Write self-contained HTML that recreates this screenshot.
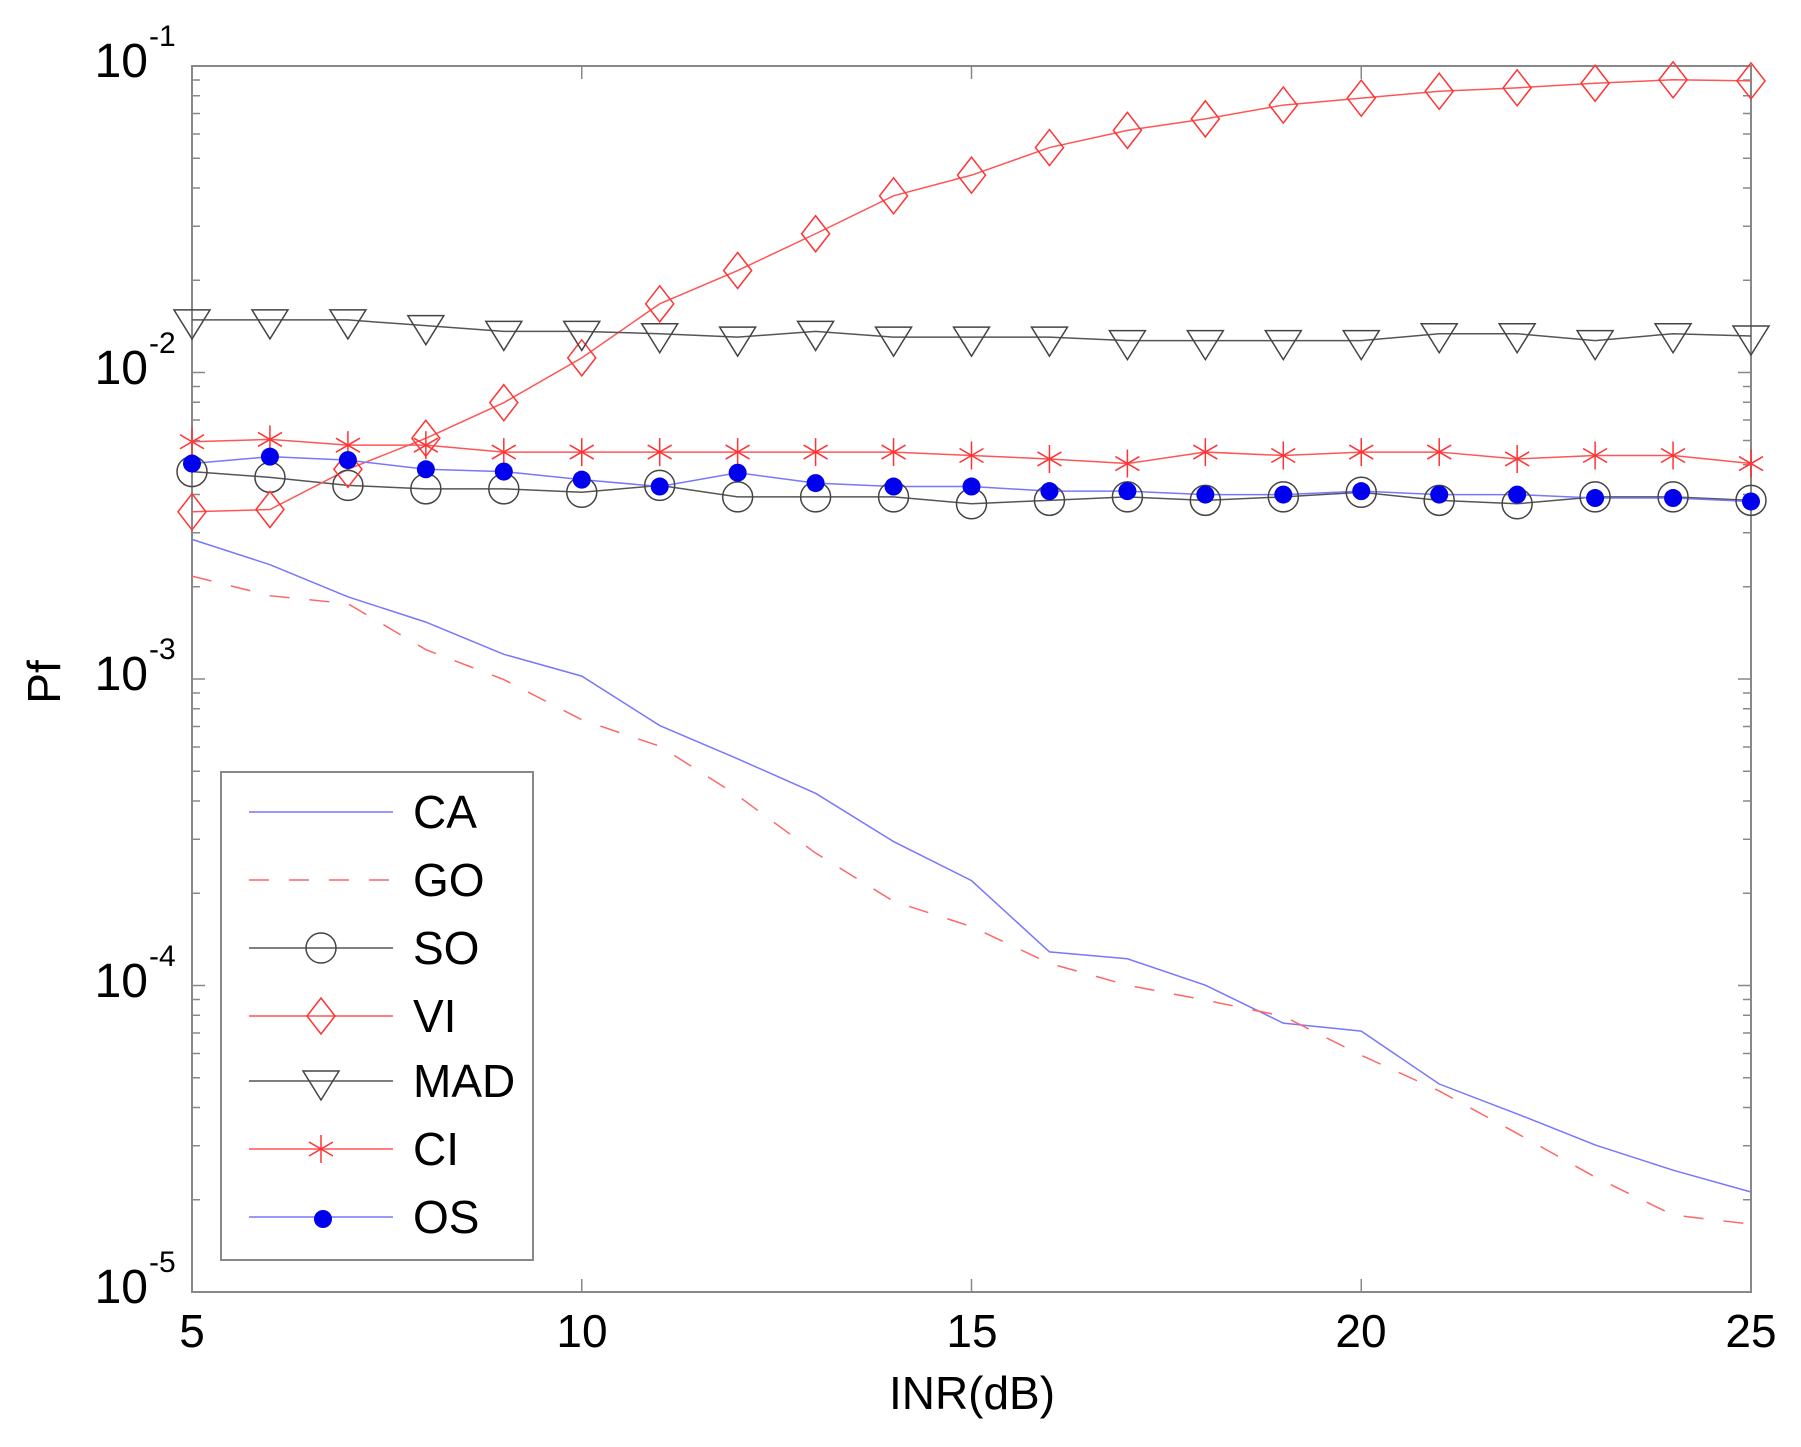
<!DOCTYPE html>
<html><head><meta charset="utf-8"><style>
html,body{margin:0;padding:0;background:#fff;}
svg text{font-family:"Liberation Sans",Arial,sans-serif;fill:#000;}
</style></head><body>
<svg id="s" width="1801" height="1442" xmlns="http://www.w3.org/2000/svg">
<rect width="1801" height="1442" fill="#fff"/>
<g id="ticks"></g>
<rect x="192" y="66" width="1559" height="1226" fill="none" stroke="#888" stroke-width="2"/>
<g id="data"></g>
<g font-size="46" text-anchor="middle">
<text x="192" y="1347">5</text>
<text x="582" y="1347">10</text>
<text x="972" y="1347">15</text>
<text x="1361" y="1347">20</text>
<text x="1751" y="1347">25</text>
<text x="972" y="1409">INR(dB)</text>
<text transform="translate(60,682) rotate(-90)">Pf</text>
</g>
<g>
<rect x="221" y="772" width="312" height="488" fill="#fff" stroke="#888" stroke-width="2"/>
<line x1="249" y1="812" x2="393" y2="812" stroke="#7777ff" stroke-width="1.5"/>
<line x1="249" y1="880" x2="393" y2="880" stroke="#ff6666" stroke-width="1.5" stroke-dasharray="20,20"/>
<line x1="249" y1="948" x2="393" y2="948" stroke="#555" stroke-width="1.5"/>
<circle cx="321" cy="948" r="15" fill="none" stroke="#444" stroke-width="1.5"/>
<line x1="249" y1="1016" x2="393" y2="1016" stroke="#ff5555" stroke-width="1.5"/>
<path d="M321 998 L335 1016 L321 1034 L307 1016Z" fill="none" stroke="#ff3333" stroke-width="1.5"/>
<line x1="249" y1="1081" x2="393" y2="1081" stroke="#555" stroke-width="1.5"/>
<path d="M303 1071 L339 1071 L321 1100Z" fill="none" stroke="#444" stroke-width="1.5"/>
<line x1="249" y1="1149" x2="393" y2="1149" stroke="#ff5555" stroke-width="1.5"/>
<path d="M321 1135 V1163 M309 1142 L333 1156 M309 1156 L333 1142" stroke="#ff3333" stroke-width="1.5"/>
<line x1="249" y1="1217" x2="393" y2="1217" stroke="#7777ff" stroke-width="1.5"/>
<circle cx="323" cy="1219" r="9" fill="#0000ee"/>
<g font-size="46"><text x="413" y="828">CA</text><text x="413" y="896">GO</text><text x="413" y="964">SO</text><text x="413" y="1032">VI</text><text x="413" y="1097">MAD</text><text x="413" y="1165">CI</text><text x="413" y="1233">OS</text></g>
</g>
<g font-size="48" text-anchor="end">
<text x="148" y="77">10</text><text x="148" y="384">10</text><text x="148" y="690">10</text><text x="148" y="997">10</text><text x="148" y="1303">10</text>
</g>
<g font-size="30">
<text x="149" y="46">-1</text><text x="149" y="353">-2</text><text x="149" y="659">-3</text><text x="149" y="966">-4</text><text x="149" y="1272">-5</text>
</g>
</svg>
<script>
const NS="http://www.w3.org/2000/svg";
const X=i=>192+i*77.95, Y=ys=>66+(ys-57)*1.149;
function el(t,a,p){const e=document.createElementNS(NS,t);for(const k in a)e.setAttribute(k,a[k]);p.appendChild(e);return e;}
const tk=document.getElementById('ticks');
let d="";
for(let dec=0;dec<4;dec++){for(let m=1;m<=10;m++){const y=66+306.5*(dec+1)-306.5*Math.log10(m);const L=(m==1||m==10)?13:8;d+=`M192 ${y}h${L}M1751 ${y}h-${L}`;}}
for(let i=0;i<=20;i+=5){d+=`M${X(i)} 1292v-13M${X(i)} 66v13`;}
el('path',{d:d,stroke:'#888','stroke-width':1.5,fill:'none'},tk);
const g=document.getElementById('data');
const S={
CA:[469,491,519,541,569,588,631,660,690,732,766,828,834,857,890,897,943,969,996,1018,1037],
GO:[501,518,525,565,591,626,649,692,742,784,806,838,857,870,884,918,949,986,1024,1057,1065],
SO:[410,415,422,425,425,428,422,432,432,432,438,435,432,435,432,428,435,438,432,432,435],
VI:[445,443,408,381,350,311,264,235,203,170,152,128,113,103,91,85,79,76,72,69,70],
MAD:[278,278,278,283,288,288,290,293,288,293,293,293,296,296,296,296,290,290,296,290,292],
CI:[384,382,387,387,393,393,393,393,393,393,396,399,403,393,396,393,393,399,396,396,403],
OS:[403,397,400,408,410,417,423,411,420,423,423,427,427,430,430,427,430,430,433,433,436]};
function line(k,c,extra){const p=S[k].map((v,i)=>X(i)+','+Y(v)).join(' ');const a={points:p,fill:'none',stroke:c,'stroke-width':1.5};Object.assign(a,extra||{});el('polyline',a,g);}
line('CA','#7777ff');line('GO','#ff6666',{'stroke-dasharray':'20,20'});
line('SO','#555');line('VI','#ff5555');line('MAD','#555');line('CI','#ff5555');line('OS','#7777ff');
S.SO.forEach((v,i)=>el('circle',{cx:X(i),cy:Y(v),r:15,fill:'none',stroke:'#444','stroke-width':1.5},g));
S.VI.forEach((v,i)=>{const x=X(i),y=Y(v);el('path',{d:`M${x} ${y-18}L${x+14} ${y}L${x} ${y+18}L${x-14} ${y}Z`,fill:'none',stroke:'#ff3333','stroke-width':1.5},g);});
S.MAD.forEach((v,i)=>{const x=X(i),y=Y(v);el('path',{d:`M${x-18} ${y-10}L${x+18} ${y-10}L${x} ${y+19}Z`,fill:'none',stroke:'#444','stroke-width':1.5},g);});
S.CI.forEach((v,i)=>{const x=X(i),y=Y(v);el('path',{d:`M${x} ${y-14}V${y+14}M${x-12} ${y-7}L${x+12} ${y+7}M${x-12} ${y+7}L${x+12} ${y-7}`,stroke:'#ff3333','stroke-width':1.5},g);});
S.OS.forEach((v,i)=>el('circle',{cx:X(i),cy:Y(v),r:9,fill:'#0000ee'},g));
</script>
</body></html>
